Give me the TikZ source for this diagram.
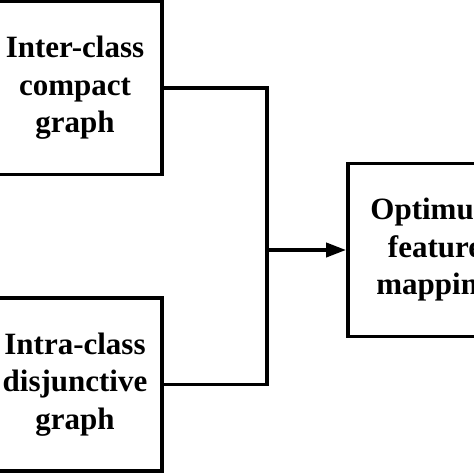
\documentclass[tikz,border=0pt]{standalone}
\usepackage{fontspec}
\setmainfont{Liberation Serif}
\usetikzlibrary{arrows.meta}
\begin{document}
\begin{tikzpicture}[x=1pt, y=-1pt, line join=miter, >={Triangle[length=20pt,width=14pt]},
	box/.style={draw, line width=3.8pt, minimum width=174pt, minimum height=173pt, align=center,
		font=\fontsize{31}{37.5}\selectfont\bfseries, inner sep=0pt}]
	\useasboundingbox (0,0) rectangle (474,474);
	% The three boxes
	\node[box] (inter) at (75,88) {Inter-class\\compact\\graph};
	\node[box] (intra) at (75,384.5) {Intra-class\\disjunctive\\graph};
	\node[box] (optim) at (435,250) {Optimum\\feature\\mapping};
	
	% Junction of the two branches
	\coordinate (J) at (267,250);
	
	% Connectors
	\draw[line width=3.8pt] (inter.east) -| (J);
	\draw[line width=3.8pt] (intra.east) -| (J);
	\draw[line width=3.8pt, ->] (J) -- (optim.west);
\end{tikzpicture}
\end{document}
